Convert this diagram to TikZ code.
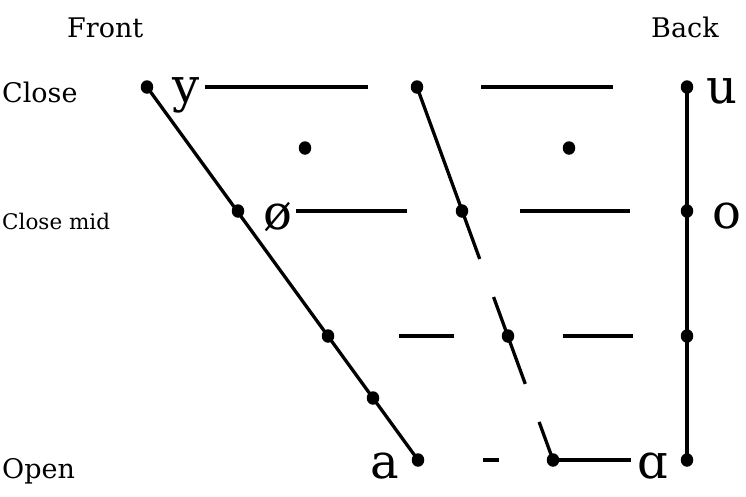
\documentclass[tikz,border=0pt]{standalone}
\usepackage{fontspec}
\setmainfont{DejaVu Serif}
\usetikzlibrary{calc,shapes.geometric}
\begin{document}
\begin{tikzpicture}[x=1pt,y=-1pt,
  vdot/.style={ellipse,fill=black,inner sep=0pt,minimum width=12.5pt,minimum height=13.5pt},
  seg/.style={line width=3.3pt,line cap=butt},
  lbl/.style={anchor=base west,inner sep=0pt,font=\fontsize{27}{30}\selectfont},
  smalllbl/.style={anchor=base west,inner sep=0pt,font=\fontsize{21.5}{26}\selectfont},
  vowel/.style={anchor=base west,inner sep=0pt,font=\fontsize{48}{52}\selectfont}]
\useasboundingbox (0,0) rectangle (746,496);
% labels
\node[lbl] (front) at (67,37) {Front};
\node[lbl] (back) at (651,37) {Back};
\node[lbl] (close) at (2,102) {Close};
\node[smalllbl] (closemid) at (2,229) {Close mid};
\node[lbl] (open) at (2,478) {Open};
% vowel symbols
\node[vowel] (vy) at (172,102) {y};
\node[vowel] (voe) at (263,229) {ø};
\node[vowel] (vu) at (706,103) {u};
\node[vowel] (vo) at (712,228) {o};
\node[vowel] (va) at (370,478) {a};
\node[vowel] (vaa) at (637,478) {ɑ};
% points
\coordinate (f1) at (147,87);
\coordinate (c1) at (417,87);
\coordinate (b1) at (687,87);
\coordinate (f2) at (238,211);
\coordinate (c2) at (462,211);
\coordinate (b2) at (687,211);
\coordinate (f3) at (328,336);
\coordinate (c3) at (508,336);
\coordinate (b3) at (687,336);
\coordinate (f35) at (373,398);
\coordinate (f4) at (418,460);
\coordinate (c4) at (553,460);
\coordinate (b4) at (687,460);
\coordinate (nc1) at (305,148);
\coordinate (nc2) at (569,148);
% central line pieces
\coordinate (g1) at ($(c1)!0.461!(c4)$);
\coordinate (g2) at ($(c1)!0.563!(c4)$);
\coordinate (g3) at ($(c1)!0.796!(c4)$);
\coordinate (g4) at ($(c1)!0.898!(c4)$);
% horizontal line ends
\coordinate (h1a) at (205,87);  \coordinate (h1b) at (368,87);
\coordinate (h1c) at (481,87);  \coordinate (h1d) at (613,87);
\coordinate (h2a) at (296,211); \coordinate (h2b) at (407,211);
\coordinate (h2c) at (520,211); \coordinate (h2d) at (630,211);
\coordinate (h3a) at (399,336); \coordinate (h3b) at (454,336);
\coordinate (h3c) at (563,336); \coordinate (h3d) at (633,336);
\coordinate (h4a) at (483,460); \coordinate (h4b) at (499,460);
\coordinate (h4d) at (631,460);
% lines
\draw[seg] (f1) -- (f4);
\draw[seg] (b1) -- (b4);
\draw[seg] (c1) -- (g1);
\draw[seg] (g2) -- (g3);
\draw[seg] (g4) -- (c4);
\draw[seg] (h1a) -- (h1b);
\draw[seg] (h1c) -- (h1d);
\draw[seg] (h2a) -- (h2b);
\draw[seg] (h2c) -- (h2d);
\draw[seg] (h3a) -- (h3b);
\draw[seg] (h3c) -- (h3d);
\draw[seg] (h4a) -- (h4b);
\draw[seg] (c4) -- (h4d);
% dots
\foreach \p in {f1,c1,b1,f2,c2,b2,f3,c3,b3,f35,f4,c4,b4,nc1,nc2}
  \node[vdot] (d\p) at (\p) {};
\end{tikzpicture}
\end{document}
